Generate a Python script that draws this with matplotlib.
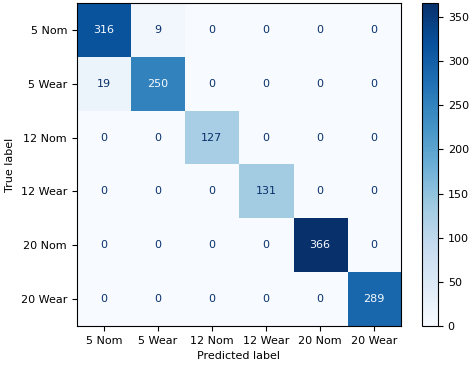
import matplotlib
matplotlib.use("Agg")
import matplotlib.pyplot as plt
import numpy as np

plt.rcParams["font.size"] = 8

labels = ["5 Nom", "5 Wear", "12 Nom", "12 Wear", "20 Nom", "20 Wear"]
cm = np.array([
    [316, 9, 0, 0, 0, 0],
    [19, 250, 0, 0, 0, 0],
    [0, 0, 127, 0, 0, 0],
    [0, 0, 0, 131, 0, 0],
    [0, 0, 0, 0, 366, 0],
    [0, 0, 0, 0, 0, 289],
])

fig = plt.figure(figsize=(4.74, 3.72), dpi=100)
ax = fig.add_axes([0.162, 0.124, 0.684, 0.868])
cax = fig.add_axes([0.890, 0.124, 0.034, 0.868])
cmap = plt.get_cmap("Blues")
im = ax.imshow(cm, interpolation="nearest", cmap=cmap, aspect="auto")
cb = fig.colorbar(im, cax=cax)

thresh = (cm.max() + cm.min()) / 2.0
for i in range(cm.shape[0]):
    for j in range(cm.shape[1]):
        color = cmap(0) if cm[i, j] >= thresh else cmap(1.0)
        ax.text(j, i, str(cm[i, j]), ha="center", va="center", color=color)

ax.set_xticks(range(len(labels)))
ax.set_yticks(range(len(labels)))
ax.set_xticklabels(labels)
ax.set_yticklabels(labels)
ax.set_xlabel("Predicted label")
ax.set_ylabel("True label")

fig.savefig("out.png", dpi=100)
